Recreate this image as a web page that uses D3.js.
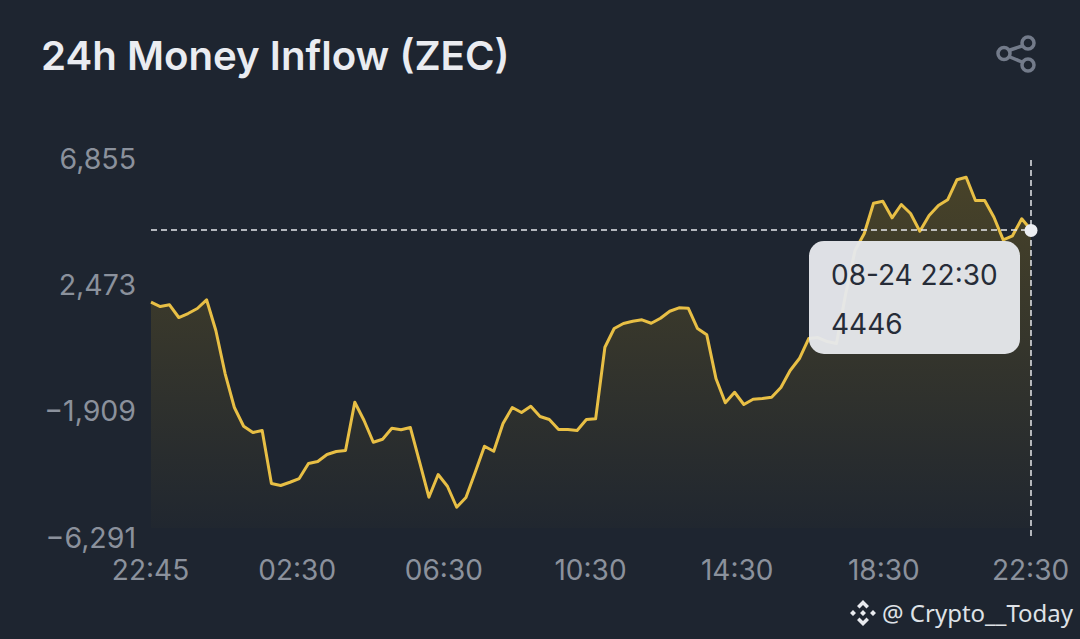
<!DOCTYPE html>
<html><head><meta charset="utf-8">
<script src="https://cdn.jsdelivr.net/npm/d3@7/dist/d3.min.js"></script>
<style>html,body{margin:0;padding:0;background:#1e2530;overflow:hidden}</style>
</head><body><div id="c"></div>
<script>
const title = "24h Money Inflow (ZEC)";
const xLabels = ["22:45","02:30","06:30","10:30","14:30","18:30","22:30"];
const yTicks = [6855,2473,-1909,-6291];
const inflow = [1939,1790,1849,1409,1547,1721,2023,958,-534,-1713,-2362,-2581,-2511,-4350,-4419,-4305,-4176,-3656,-3587,-3344,-3240,-3205,-1530,-2164,-2917,-2813,-2432,-2487,-2407,-3611,-4825,-4038,-4444,-5172,-4836,-3958,-3056,-3229,-2268,-1713,-1887,-1668,-2026,-2130,-2477,-2477,-2511,-2130,-2106,378,1027,1201,1280,1329,1211,1384,1627,1745,1731,1027,808,-718,-1550,-1183,-1609,-1426,-1401,-1356,-1020,-430,-14,680,715,576,507,2241,3733,4323,5374,5443,4867,5329,5016,4402,4947,5294,5492,6185,6276,5467,5467,4888,4104,4243,4833,4446];
const tooltipLines = ["08-24 22:30","4446"];
const watermark = "@ Crypto__Today";
const W=1080,H=639;
const svg=d3.select("#c").append("svg").attr("width",W).attr("height",H).style("display","block");
svg.append("rect").attr("width",W).attr("height",H).attr("fill","#1e2530");
const x=d3.scaleLinear().domain([0,inflow.length-1]).range([151,1031]);
const y=d3.scaleLinear().domain([-6291,6855]).range([539.5,160.5]);
const floorY=528;
const defs=svg.append("defs");
const g=defs.append("linearGradient").attr("id","ag").attr("gradientUnits","userSpaceOnUse").attr("x1",0).attr("x2",0).attr("y1",176).attr("y2",floorY);
g.append("stop").attr("offset",0).attr("stop-color","#f0b90b").attr("stop-opacity",0.2);
g.append("stop").attr("offset",1).attr("stop-color","#f0b90b").attr("stop-opacity",0.012);
svg.append("text").attr("x",41).attr("y",70).attr("font-family","Inter").attr("font-weight",600).attr("font-size",40.2).attr("fill","#eaecf1").text(title);
// share icon
const ic=svg.append("g").attr("stroke","#737b8a").attr("stroke-width",3.5).attr("fill","none");
ic.append("line").attr("x1",1010).attr("y1",50).attr("x2",1022).attr("y2",46);
ic.append("line").attr("x1",1010).attr("y1",57).attr("x2",1022).attr("y2",62);
[[1028,43],[1004,53.5],[1028,65]].forEach(p=>ic.append("circle").attr("cx",p[0]).attr("cy",p[1]).attr("r",6));
// axes
const yAxis=d3.axisLeft(y).tickValues(yTicks).tickSize(0).tickPadding(0).tickFormat(d=>d3.format(",")(d).replace("-","\u2212"));
const ya=svg.append("g").attr("transform","translate(136,-1.5)").call(yAxis);
ya.select(".domain").remove();
ya.selectAll("text").attr("font-family","Inter").attr("font-size",28.5).attr("fill","#8b919c");
const xAxis=d3.axisBottom(x).tickValues(xLabels.map((d,i)=>i*(inflow.length-1)/(xLabels.length-1))).tickSize(0).tickPadding(0).tickFormat((d,i)=>xLabels[i]);
const xa=svg.append("g").attr("transform","translate(-1,560)").call(xAxis);
xa.select(".domain").remove();
xa.selectAll("text").attr("font-family","Inter").attr("font-size",28).attr("fill","#8b919c");
// area & line
const pts=inflow.map((v,i)=>[i,v]);
svg.append("path").attr("d",d3.area().x(d=>x(d[0])).y0(floorY).y1(d=>y(d[1]))(pts)).attr("fill","url(#ag)");
svg.append("path").attr("d",d3.line().x(d=>x(d[0])).y(d=>y(d[1]))(pts)).attr("fill","none").attr("stroke","#e8bf45").attr("stroke-width",3).attr("stroke-linejoin","round");
// crosshair
const lastI=inflow.length-1,cy=y(inflow[lastI]),cx=x(lastI);
const dash="6 4";
svg.append("line").attr("x1",151).attr("x2",cx).attr("y1",cy).attr("y2",cy).attr("stroke","#e6e8ec").attr("stroke-width",1.5).attr("stroke-dasharray",dash);
svg.append("line").attr("x1",cx).attr("x2",cx).attr("y1",160).attr("y2",539).attr("stroke","#e6e8ec").attr("stroke-width",1.5).attr("stroke-dasharray",dash);
svg.append("circle").attr("cx",cx).attr("cy",cy+0.5).attr("r",6.5).attr("fill","#eceef2");
// tooltip
svg.append("rect").attr("x",809).attr("y",241).attr("width",211).attr("height",113).attr("rx",15).attr("fill","#e6e8ec").attr("fill-opacity",0.96);
tooltipLines.forEach((t,i)=>svg.append("text").attr("x",831).attr("y",i?334:285).attr("font-family","Inter").attr("font-size",28).attr("fill","#262c38").text(t));
// watermark
const wm=svg.append("g").attr("fill","#e8eaee");
wm.append("path").attr("transform","translate(863,613)").attr("d","M0,-13L6,-7L3.5,-4.5L0,-8L-3.5,-4.5L-6,-7ZM-13,0L-10,-3L-7,0L-10,3ZM13,0L10,-3L7,0L10,3ZM0,-3L3,0L0,3L-3,0ZM0,13L6,7L3.5,4.5L0,8L-3.5,4.5L-6,7Z");
wm.append("text").attr("x",882).attr("y",622).attr("font-family","Noto Sans").attr("font-size",24).attr("fill","#dfe2e7").text(watermark);
</script></body></html>
